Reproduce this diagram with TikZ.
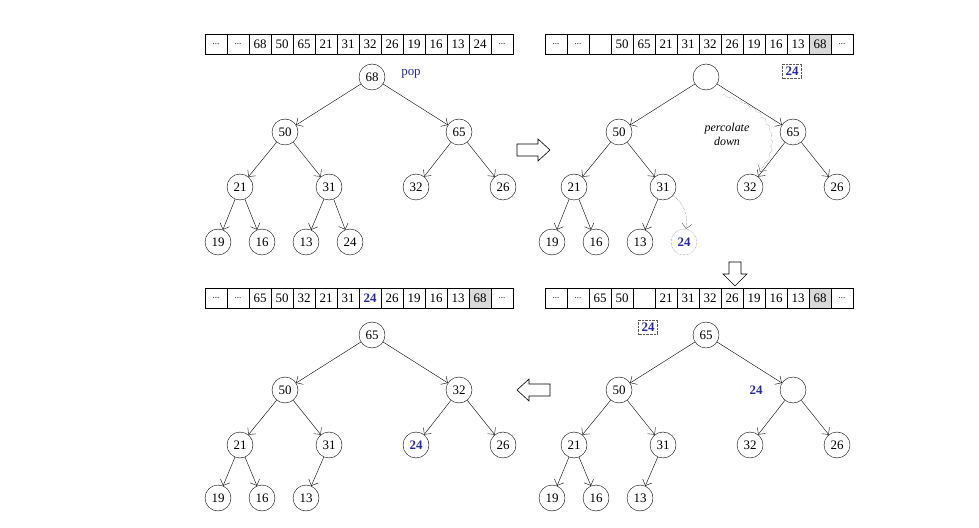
\documentclass[tikz,border=0pt]{standalone}
\usepackage{fontspec}
\setmainfont{Liberation Serif}
\usetikzlibrary{arrows.meta,decorations.pathmorphing}
\definecolor{popblue}{RGB}{40,40,160}
\tikzset{
  nd/.style={circle,draw,minimum size=26bp,inner sep=0pt,font=\fontsize{13}{15}\selectfont},
  cell/.style={draw,minimum width=22bp,minimum height=20bp,inner sep=0pt,font=\fontsize{13}{15}\selectfont},
  hot/.style={text=popblue,font=\fontsize{13}{15}\selectfont\bfseries},
  edge/.style={-{Straight Barb[length=5bp]}},
  dots/.style={densely dotted,draw=gray!70!black},
  hollow/.style={draw,fill=white,line width=0.6bp}
}
\newcommand{\dts}{\fontsize{9}{10}\selectfont...}
\newcommand{\heaparray}[3]{% x, y, list
  \foreach \v [count=\i] in {#3} {
    \node[cell] at (#1+\i*22-11,#2) {\v};
  }
}
\begin{document}
\begin{tikzpicture}[x=1bp,y=-1bp]
\useasboundingbox (0,0) rectangle (979,528);
%% top left
\heaparray{205}{44}{\dts,\dts,68,50,65,21,31,32,26,19,16,13,24,\dts}
\node[nd] (a) at (372,77) {68};
\node[text=popblue,font=\fontsize{13}{15}\selectfont] at (411,74) {pop};
\node[nd] (b) at (285,132) {50};
\node[nd] (c) at (459,132) {65};
\node[nd] (d) at (240,187) {21};
\node[nd] (e) at (329,187) {31};
\node[nd] (f) at (416,187) {32};
\node[nd] (g) at (503,187) {26};
\node[nd] (h) at (218,242) {19};
\node[nd] (i) at (262,242) {16};
\node[nd] (j) at (306,242) {13};
\node[nd] (k) at (350,242) {24};
\foreach \p/\q in {a/b,a/c,b/d,b/e,c/f,c/g,d/h,d/i,e/j,e/k}
  \draw[edge] (\p) -- (\q);
%% top right
\heaparray{545}{44}{\dts,\dts,{},50,65,21,31,32,26,19,16,13,68,\dts}
\fill[gray!30] (809,34) rectangle (831,54);
\node[cell] at (820,44) {68};
\node[hot,dots,inner sep=3bp] at (792,71) {24};
\node[nd] (A) at (706,77) {};
\node[nd] (B) at (619,132) {50};
\node[nd] (C) at (793,132) {65};
\node[nd] (D) at (574,187) {21};
\node[nd] (E) at (663,187) {31};
\node[nd] (F) at (750,187) {32};
\node[nd] (G) at (837,187) {26};
\node[nd] (H) at (552,242) {19};
\node[nd] (I) at (596,242) {16};
\node[nd] (J) at (640,242) {13};
\node[nd,hot,dots] (K) at (684,242) {24};
\foreach \p/\q in {A/B,A/C,B/D,B/E,C/F,C/G,D/H,D/I,E/J}
  \draw[edge] (\p) -- (\q);
\draw[edge,dots] (E) to[bend left=30] (K);
\node[font=\fontsize{12}{14}\selectfont\itshape,align=center] at (727,134) {percolate\\down};
\draw[edge,dots,decorate,decoration={snake,amplitude=1bp,segment length=8bp,post length=6bp}]
  (722,95) .. controls (780,110) and (775,150) .. (760,172);
%% transition arrows
\draw[hollow] (517,144) -- (538,144) -- (538,139) -- (550,150) -- (538,161) -- (538,156) -- (517,156) -- cycle;
\draw[hollow] (729,262) -- (741,262) -- (741,274) -- (747,274) -- (735,286) -- (723,274) -- (729,274) -- cycle;
\draw[hollow] (550,384) -- (529,384) -- (529,379) -- (517,390) -- (529,401) -- (529,396) -- (550,396) -- cycle;
%% bottom right
\heaparray{545}{298}{\dts,\dts,65,50,{},21,31,32,26,19,16,13,68,\dts}
\fill[gray!30] (809,288) rectangle (831,308);
\node[cell] at (820,298) {68};
\node[hot,dots,inner sep=3bp] at (648,327) {24};
\node[nd] (P) at (706,335) {65};
\node[nd] (Q) at (619,390) {50};
\node[nd] (R) at (793,390) {};
\node[hot] at (756,390) {24};
\node[nd] (S) at (574,445) {21};
\node[nd] (T) at (663,445) {31};
\node[nd] (U) at (750,445) {32};
\node[nd] (V) at (837,445) {26};
\node[nd] (W) at (552,498) {19};
\node[nd] (X) at (596,498) {16};
\node[nd] (Y) at (640,498) {13};
\foreach \p/\q in {P/Q,P/R,Q/S,Q/T,R/U,R/V,S/W,S/X,T/Y}
  \draw[edge] (\p) -- (\q);
%% bottom left
\heaparray{205}{298}{\dts,\dts,65,50,32,21,31,{\textbf{\textcolor{popblue}{24}}},26,19,16,13,68,\dts}
\fill[gray!30] (469,288) rectangle (491,308);
\node[cell] at (480,298) {68};
\node[nd] (p) at (372,335) {65};
\node[nd] (q) at (285,390) {50};
\node[nd] (r) at (459,390) {32};
\node[nd] (s) at (240,445) {21};
\node[nd] (t) at (329,445) {31};
\node[nd,hot] (u) at (416,445) {24};
\node[nd] (v) at (503,445) {26};
\node[nd] (w) at (218,498) {19};
\node[nd] (x) at (262,498) {16};
\node[nd] (y) at (306,498) {13};
\foreach \p/\q in {p/q,p/r,q/s,q/t,r/u,r/v,s/w,s/x,t/y}
  \draw[edge] (\p) -- (\q);
\end{tikzpicture}
\end{document}
